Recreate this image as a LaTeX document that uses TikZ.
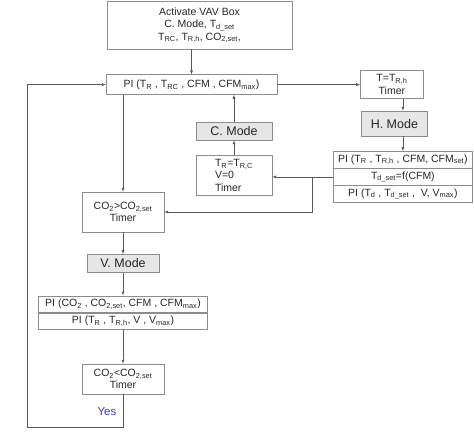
\documentclass[tikz,border=0pt]{standalone}
\usepackage{fontspec}
\setmainfont{Liberation Sans}
\usepackage{xcolor}
\usepackage{tikz}
\usetikzlibrary{arrows, positioning, calc}

\definecolor{boxgray}{HTML}{8C8C8C}
\definecolor{linegray}{HTML}{5A5A5A}
\definecolor{modefill}{HTML}{E6E6E6}
\definecolor{textgray}{HTML}{262626}
\definecolor{yesblue}{HTML}{3C3CC8}
\newcommand{\sbs}[1]{\textsubscript{#1}}

\begin{document}
\begin{tikzpicture}[
   x=1pt, y=1pt,
   font=\fontsize{10.5}{12.5}\selectfont, text=textgray,
   box/.style = {draw=boxgray, rectangle, inner sep=2pt, align=center},
   modebox/.style = {box, fill=modefill, font=\fontsize{12.5}{14}\selectfont},
   rowbox/.style = {box, minimum height=16.7pt},
   line/.style = {draw=linegray, -latex}
   ]
  \useasboundingbox (0,0) rectangle (474,-435);

  % Start box
  \node[box, minimum width=185pt, minimum height=48.5pt] (start) at (199.5,-25)
   {Activate VAV Box\\
   C. Mode, T\sbs{d\_set}\\
   T\sbs{RC}, T\sbs{R,h}, CO\sbs{2,set},};

  % Cooling control
  \node[box, minimum width=171pt, minimum height=20pt, below=25pt of start, xshift=-8pt] (pi)
   {PI (T\sbs{R} , T\sbs{RC} , CFM , CFM\sbs{max})};
  \node[modebox, minimum width=76pt, minimum height=18pt] (cmode) at (234,-131) {C. Mode};
  \node[box, align=left, minimum width=76pt, minimum height=40pt, below=15pt of cmode] (trc)
   {T\sbs{R}=T\sbs{R,C}\\
   V=0\\
   Timer};

  % Heating boxes
  \node[box, minimum width=63pt, minimum height=28pt, right=83pt of pi] (tset)
   {T=T\sbs{R,h}\\
   Timer};
  \node[modebox, minimum width=66pt, minimum height=25pt, below=12pt of tset, xshift=2.5pt] (hmode) {H. Mode};
  \node[rowbox, minimum width=139pt, below=15pt of hmode, xshift=8.5pt] (rowsa)
   {PI (T\sbs{R} , T\sbs{R,h} , CFM, CFM\sbs{set})};
  \node[rowbox, minimum width=139pt, below=0pt of rowsa] (rowsb)
   {T\sbs{d\_set}=f(CFM)};
  \node[rowbox, minimum width=139pt, below=0pt of rowsb] (rowsc)
   {PI (T\sbs{d} , T\sbs{d\_set} ,\ \ V, V\sbs{max})};

  % Ventilation boxes
  \node[box, minimum width=82pt, minimum height=40pt] (co2hi) at (123,-212)
   {CO\sbs{2}>CO\sbs{2,set}\\
   Timer};
  \node[modebox, minimum width=72pt, minimum height=18pt, below=22pt of co2hi] (vmode) {V. Mode};
  \node[rowbox, minimum width=169pt, below=23pt of vmode] (pico2a)
   {PI (CO\sbs{2} , CO\sbs{2,set}, CFM , CFM\sbs{max})};
  \node[rowbox, minimum width=169pt, below=0pt of pico2a] (pico2b)
   {PI (T\sbs{R} , T\sbs{R,h}, V , V\sbs{max})};
  \node[box, minimum width=82pt, minimum height=30pt, below=34pt of pico2b] (co2lo)
   {CO\sbs{2}<CO\sbs{2,set}\\
   Timer};
  \node[text=yesblue, font=\fontsize{11.5}{13}\selectfont] (yes) at (107,-412) {Yes};

  \coordinate (split) at ($(rowsb.west)+(-21,0)$);
  \coordinate (loop) at (27,-427);

  % Arrows
  \draw[line] (start.south -| pi.north) -- (pi.north);
  \draw[line] (pi) -- (tset);
  \draw[line] (tset.south -| rowsa.north) -- (hmode.north -| rowsa.north);
  \draw[line] (hmode.south -| rowsa.north) -- (rowsa.north);
  \draw[draw=linegray] (rowsb.west) -- (split);
  \draw[line] (split) -- (split -| trc.east);
  \draw[line] (split) |- (co2hi.east);
  \draw[line] (trc) -- (cmode);
  \draw[line] (cmode) -- (cmode |- pi.south);
  \draw[line] (pi.south -| co2hi.north) -- (co2hi.north);
  \draw[line] (co2hi) -- (vmode);
  \draw[line] (vmode) -- (pico2a);
  \draw[line] (pico2b) -- (co2lo);
  \draw[line] (co2lo.south) |- (loop) |- (pi.west);
\end{tikzpicture}
\end{document}
